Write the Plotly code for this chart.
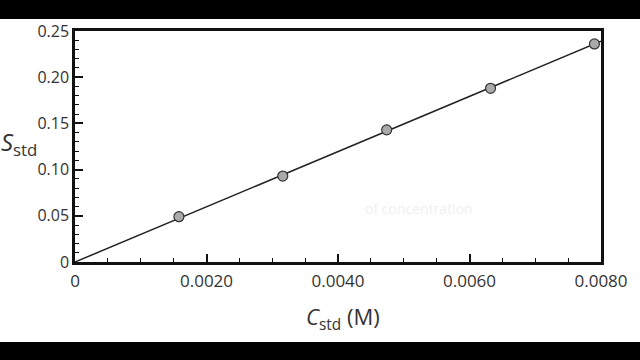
import numpy as np
import plotly.graph_objects as go

# Data
c_std = [0.00158, 0.00316, 0.00474, 0.00632, 0.00790]
s_std = [0.049, 0.093, 0.143, 0.188, 0.236]

x_tickvals = [0, 0.002, 0.004, 0.006, 0.008]
x_ticktext = ["0", "0.0020", "0.0040", "0.0060", "0.0080"]
y_tickvals = [0, 0.05, 0.10, 0.15, 0.20, 0.25]
y_ticktext = ["0", "0.05", "0.10", "0.15", "0.20", "0.25"]

# least-squares line through the origin
cx = np.array(c_std)
sy = np.array(s_std)
slope = float((cx * sy).sum() / (cx * cx).sum())
line_x = [0, 0.008]
line_y = [slope * v for v in line_x]

FONT = "Open Sans"
W, H = 640, 360
L, R, T, B = 75, 37, 31, 98
pw, ph = W - L - R, H - T - B

def px_x(p):
    return (p - L) / pw

def px_y(p):
    return (H - B - p) / ph

fig = go.Figure()
fig.add_trace(go.Scatter(x=line_x, y=line_y, mode="lines",
                         line=dict(color="#222", width=1.5),
                         hoverinfo="skip", showlegend=False))
fig.add_trace(go.Scatter(x=c_std, y=s_std, mode="markers",
                         marker=dict(size=10, color="#aaaaaa",
                                     line=dict(color="#333", width=1.2)),
                         showlegend=False))

axis_common = dict(showgrid=False, zeroline=False, showline=True,
                   linecolor="#111", linewidth=2.5, mirror=True,
                   ticks="inside", ticklen=8, tickwidth=2, tickcolor="#111")

fig.update_xaxes(range=[0, 0.008], tickvals=x_tickvals, ticktext=x_ticktext,
                 ticklabelstandoff=2,
                 tickfont=dict(family=FONT, size=17, color="#333"),
                 minor=dict(ticks="inside", ticklen=4, tickwidth=1.2,
                            tickcolor="#111", dtick=0.0005),
                 **axis_common)
fig.update_yaxes(range=[0, 0.25], tickvals=y_tickvals, ticktext=y_ticktext,
                 tickfont=dict(family=FONT, size=16, color="#333"),
                 minor=dict(ticks="inside", ticklen=4, tickwidth=1.2,
                            tickcolor="#111", dtick=0.01),
                 **axis_common)

shapes = [
    dict(type="rect", xref="paper", yref="paper",
         x0=px_x(-5), x1=px_x(W + 5), y0=px_y(19), y1=px_y(-5),
         fillcolor="black", line=dict(width=0), layer="above"),
    dict(type="rect", xref="paper", yref="paper",
         x0=px_x(-5), x1=px_x(W + 5), y0=px_y(H + 5), y1=px_y(342),
         fillcolor="black", line=dict(width=0), layer="above"),
]

annotations = [
    dict(text="<i>C</i><sub>std</sub> (M)", xref="paper", yref="paper",
         x=px_x(344), y=px_y(318), showarrow=False,
         font=dict(family=FONT, size=22, color="#333"),
         xanchor="center", yanchor="middle"),
    dict(text="<i>S</i><sub>std</sub>", xref="paper", yref="paper",
         x=px_x(-1), y=px_y(143), showarrow=False,
         font=dict(family=FONT, size=24, color="#333"),
         xanchor="left", yanchor="middle"),
    dict(text="of concentration", xref="paper", yref="paper",
         x=px_x(420), y=px_y(208), showarrow=False,
         font=dict(family=FONT, size=14, color="#f0f0f0"),
         xanchor="center", yanchor="middle"),
]

fig.update_layout(width=W, height=H,
                  margin=dict(l=L, r=R, t=T, b=B),
                  paper_bgcolor="white", plot_bgcolor="white",
                  shapes=shapes, annotations=annotations)

fig.write_html("out.html",
               config={"displayModeBar": False},
               post_script="document.body.style.margin='0px';")
